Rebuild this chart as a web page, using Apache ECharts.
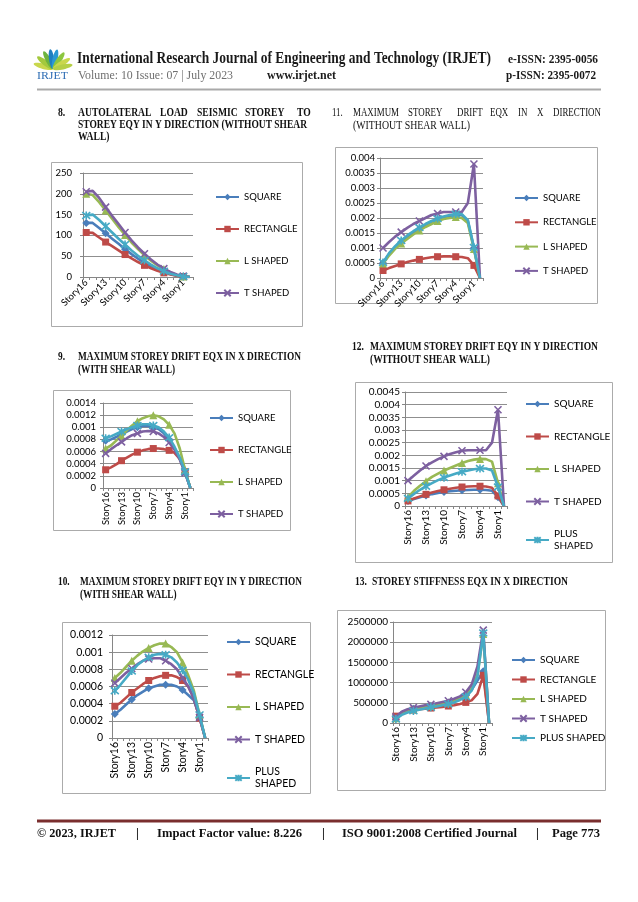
<!DOCTYPE html>
<html><head><meta charset="utf-8">
<script src="https://cdn.jsdelivr.net/npm/echarts/dist/echarts.min.js"></script>
<style>html,body{margin:0;padding:0;background:#fff}#main{width:638px;height:902px}</style>
</head><body><div id="main"></div>
<script>
// ---------- DATA ----------
const categories = ['Story16','Story15','Story14','Story13','Story12','Story11','Story10','Story9','Story8','Story7','Story6','Story5','Story4','Story3','Story2','Story1','Base'];
const seriesNames = ['SQUARE','RECTANGLE','L SHAPED','T SHAPED','PLUS SHAPED'];

// 8. Auto lateral load seismic storey to storey EQY in Y direction (without shear wall)
const c8Square = [130,130,118,105,92,80,67,55,44,34,26,18,12,7,3,1,0];
const c8Rect   = [107,106,95,84,74,64,54,45,36,28,21,15,10,6,3,1,0];
const c8L      = [200,197,180,160,140,120,101,83,67,52,39,28,19,11,5,1.5,0];
const c8T      = [205,207,190,168,147,127,107,88,71,56,42,30,20,12,6,2,0];
const c8Plus   = [148,150,137,122,107,92,78,64,51,40,30,21,14,8,4,1,0];
const c8Ticks  = [0,50,100,150,200,250];

// 9. Maximum storey drift EQX in X direction (with shear wall)
const c9Square = [0.00078,0.0008,0.00084,0.00088,0.00093,0.00097,0.001,0.00102,0.00102,0.001,0.00097,0.0009,0.0008,0.00066,0.00048,0.00025,0];
const c9Rect   = [0.0003,0.00034,0.00039,0.00045,0.0005,0.00055,0.00059,0.00062,0.00064,0.00065,0.00065,0.00064,0.00062,0.00058,0.00048,0.00027,0];
const c9L      = [0.00065,0.0007,0.00078,0.00086,0.00095,0.00103,0.0011,0.00115,0.00118,0.0012,0.00118,0.00113,0.00104,0.0009,0.00065,0.0003,0];
const c9T      = [0.00057,0.00064,0.0007,0.00076,0.00082,0.00087,0.0009,0.00093,0.00094,0.00093,0.0009,0.00084,0.00075,0.00063,0.00047,0.00025,0];
const c9Plus   = [0.00082,0.00085,0.00089,0.00093,0.00097,0.001,0.00103,0.00105,0.00105,0.00103,0.001,0.00093,0.00083,0.00068,0.0005,0.00027,0];
const c9Ticks  = [0,0.0002,0.0004,0.0006,0.0008,0.001,0.0012,0.0014];

// 10. Maximum storey drift EQY in Y direction (with shear wall)
const c10Square = [0.00028,0.00033,0.00039,0.00045,0.0005,0.00054,0.00058,0.0006,0.00062,0.00062,0.00062,0.0006,0.00056,0.0005,0.00044,0.00025,0];
const c10Rect   = [0.00037,0.00041,0.00047,0.00053,0.00058,0.00063,0.00067,0.0007,0.00072,0.00073,0.00073,0.00071,0.00067,0.0006,0.00046,0.00023,0];
const c10L      = [0.0007,0.00076,0.00083,0.0009,0.00096,0.00101,0.00105,0.00108,0.0011,0.0011,0.00106,0.001,0.00088,0.00073,0.00055,0.00027,0];
const c10T      = [0.00064,0.0007,0.00076,0.00081,0.00086,0.0009,0.00092,0.00093,0.00093,0.0009,0.00086,0.0008,0.0007,0.0006,0.00046,0.00024,0];
const c10Plus   = [0.00055,0.00062,0.0007,0.00078,0.00085,0.0009,0.00094,0.00097,0.00098,0.00097,0.00094,0.00088,0.00079,0.00068,0.00052,0.00027,0];
const c10Ticks  = [0,0.0002,0.0004,0.0006,0.0008,0.001,0.0012];

// 11. Maximum storey drift EQX in X direction (without shear wall)
const c11Square = [0.0005,0.0008,0.00102,0.0012,0.00137,0.0015,0.00163,0.00175,0.00185,0.00195,0.002,0.00205,0.0021,0.0021,0.0019,0.001,0];
const c11Rect   = [0.00025,0.00033,0.0004,0.00047,0.00053,0.00058,0.00062,0.00066,0.00069,0.00071,0.00072,0.00072,0.00071,0.0007,0.00066,0.00042,0];
const c11L      = [0.00048,0.00075,0.00097,0.00115,0.0013,0.00145,0.00158,0.0017,0.0018,0.0019,0.00197,0.002,0.00203,0.002,0.00183,0.00097,0];
const c11T      = [0.001,0.0012,0.00138,0.00153,0.00167,0.0018,0.0019,0.002,0.0021,0.00215,0.0022,0.0022,0.0022,0.0022,0.0025,0.0038,0];
const c11Plus   = [0.00052,0.00083,0.00106,0.00125,0.00142,0.00156,0.00168,0.0018,0.0019,0.00198,0.00205,0.0021,0.00213,0.00213,0.00193,0.00102,0];
const c11Ticks  = [0,0.0005,0.001,0.0015,0.002,0.0025,0.003,0.0035,0.004];

// 12. Maximum storey drift EQY in Y direction (without shear wall)
const c12Square = [0.0002,0.00028,0.00035,0.00041,0.00047,0.00051,0.00055,0.00058,0.0006,0.00062,0.00063,0.00064,0.00064,0.00063,0.0006,0.00035,0];
const c12Rect   = [0.0002,0.0003,0.00038,0.00046,0.00053,0.00059,0.00064,0.00068,0.00072,0.00075,0.00077,0.00078,0.00078,0.00077,0.00072,0.0004,0];
const c12L      = [0.00035,0.0006,0.0008,0.00098,0.00115,0.00128,0.0014,0.0015,0.0016,0.0017,0.00178,0.00183,0.00186,0.00185,0.00175,0.0009,0];
const c12T      = [0.001,0.0012,0.0014,0.00158,0.00172,0.00185,0.00196,0.00205,0.00212,0.00218,0.0022,0.0022,0.0022,0.0022,0.0025,0.0038,0];
const c12Plus   = [0.0003,0.00048,0.00064,0.00078,0.0009,0.00102,0.00112,0.0012,0.00128,0.00135,0.0014,0.00145,0.00148,0.00148,0.0014,0.00075,0];
const c12Ticks  = [0,0.0005,0.001,0.0015,0.002,0.0025,0.003,0.0035,0.004,0.0045];

// 13. Storey stiffness EQX in X direction
const c13Square = [140000,260000,310000,350000,380000,410000,430000,450000,480000,510000,550000,600000,680000,820000,1050000,1280000,0];
const c13Rect   = [170000,250000,290000,320000,340000,355000,370000,385000,400000,420000,440000,470000,510000,560000,720000,1180000,0];
const c13L      = [120000,240000,300000,340000,370000,400000,420000,450000,480000,510000,550000,610000,700000,850000,1200000,2200000,0];
const c13T      = [150000,280000,340000,380000,410000,440000,460000,490000,520000,550000,600000,660000,760000,950000,1400000,2300000,0];
const c13Plus   = [100000,200000,260000,300000,330000,360000,390000,410000,440000,470000,510000,570000,650000,800000,1150000,2230000,0];
const c13Ticks  = [0,500000,1000000,1500000,2000000,2500000];

// ---------- STYLE / LAYOUT ----------
const SERIF = "'Liberation Serif', 'Times New Roman', serif";
const SANS = "Lato, 'Open Sans', sans-serif";
const COLORS = ['#4a7ebb','#be4b48','#98b954','#7d60a0','#46aac5'];
const XPATH = 'path://M0,0L10,10M10,0L0,10';
const STARPATH = 'path://M0,0L10,10M10,0L0,10M5,-1L5,11';
const SYMBOLS = ['diamond','rect','triangle',XPATH,STARPATH];
const SYMSIZE = [8,7,8,7,8];

const charts = [
  {data:[c8Square,c8Rect,c8L,c8T,c8Plus], ticks:c8Ticks, box:[51,162,251,164], grid:[83,173,110,104], rot:45, fs:9.5, lm:11, leg:[210,186,20], n:4},
  {data:[c9Square,c9Rect,c9L,c9T,c9Plus], ticks:c9Ticks, box:[53,390,237,140], grid:[103,403,90,85], rot:90, fs:9.5, lm:7, leg:[204,407,20], n:4},
  {data:[c10Square,c10Rect,c10L,c10T,c10Plus], ticks:c10Ticks, box:[62,622,248,171], grid:[112,635,96,103], rot:90, fs:10.5, lm:9, leg:[221,631,20.5], n:5},
  {data:[c11Square,c11Rect,c11L,c11T,c11Plus], ticks:c11Ticks, box:[335,147,262,156], grid:[380,158,103,120], rot:45, fs:9.5, lm:5, leg:[509,187,12.3], n:4},
  {data:[c12Square,c12Rect,c12L,c12T,c12Plus], ticks:c12Ticks, box:[355,382,257,180], grid:[405,392,102,114], rot:90, fs:10, lm:5, leg:[520,393,20.5], n:5},
  {data:[c13Square,c13Rect,c13L,c13T,c13Plus], ticks:c13Ticks, box:[337,610,268,180], grid:[393,622,99,101], rot:90, fs:10, lm:5, leg:[506,649,7.5], n:5, oneLine:true}
];

const mctx = document.createElement('canvas').getContext('2d');
function measure(str, font){ mctx.font = font; return mctx.measureText(str).width || 1; }
function txt(str, x0, x1, y, size, weight, color, family, fixedScale) {
  family = family || SERIF;
  const font = weight + ' ' + size + 'px ' + family;
  const w = measure(str, font);
  const s = fixedScale ? fixedScale : (x1 ? (x1 - x0) / w : 1);
  return {type:'text', x:x0, y:y, scaleX:s, scaleY:1, silent:true, z:10,
    style:{text:str, x:0, y:0, font:font, fill:color || '#111', textAlign:'left', textVerticalAlign:'middle', align:'left', verticalAlign:'middle'}};
}
function scaleFor(str, x0, x1, size, weight){ return (x1 - x0) / measure(str, weight + ' ' + size + 'px ' + SERIF); }
function fmt(v){ return String(Math.round(v*1e6)/1e6); }

const grid=[], xAxis=[], yAxis=[], series=[], legend=[], graphic=[];
charts.forEach((c, i) => {
  graphic.push({type:'rect', silent:true, z:0, shape:{x:c.box[0]+0.5, y:c.box[1]+0.5, width:c.box[2], height:c.box[3]},
    style:{fill:'#fff', stroke:'#ababab', lineWidth:1}});
  grid.push({left:c.grid[0], top:c.grid[1], width:c.grid[2], height:c.grid[3], containLabel:false});
  const lbl = {fontFamily:SANS, fontSize:c.fs, color:'#000'};
  xAxis.push({type:'category', gridIndex:i, data:categories, boundaryGap:true,
    axisLine:{lineStyle:{color:'#868686', width:1}},
    axisTick:{show:true, interval:0, length:3, lineStyle:{color:'#868686'}},
    axisLabel:Object.assign({interval:2, rotate:c.rot, margin:4}, lbl)});
  const t = c.ticks;
  yAxis.push({type:'value', gridIndex:i, min:t[0], max:t[t.length-1], interval:t[1]-t[0],
    axisLine:{show:true, lineStyle:{color:'#868686', width:1}},
    axisTick:{show:true, length:3, lineStyle:{color:'#868686'}},
    splitLine:{show:true, lineStyle:{color:'#8f8f8f', width:1}},
    axisLabel:Object.assign({margin:c.lm, formatter:fmt}, lbl)});
  c.data.forEach((d, k) => {
    const isPath = k >= 3;
    series.push({type:'line', name:seriesNames[k], xAxisIndex:i, yAxisIndex:i, data:d,
      symbol:SYMBOLS[k], symbolSize:SYMSIZE[k], showSymbol:true, animation:false, z:2+k,
      lineStyle:{color:COLORS[k], width:2.6},
      itemStyle:{color:COLORS[k], borderColor:COLORS[k], borderWidth:isPath?1.6:0}});
  });
  legend.push({orient:'vertical', left:c.leg[0], top:c.leg[1], itemGap:c.leg[2], itemWidth:23, itemHeight:8,
    data:seriesNames.slice(0, c.n), selectedMode:false,
    formatter: name => (name === 'PLUS SHAPED' && !c.oneLine) ? 'PLUS\nSHAPED' : name,
    textStyle:{fontFamily:SANS, fontSize:c.fs, color:'#000', lineHeight:12}});
});

// ---------- PAGE TEXT ----------
// header logo
const leaves = [[-75,'#c9d74c'],[-52,'#a4c93d'],[-28,'#6db33f'],[-8,'#1f7fc1'],[12,'#2a98d4'],[34,'#8cc63f'],[58,'#c9d74c'],[78,'#b5cf45']];
leaves.forEach(l => graphic.push({type:'ellipse', x:53, y:69, rotation:-l[0]*Math.PI/180, silent:true,
  shape:{cx:0, cy:-10, rx:2.6, ry:10}, style:{fill:l[1]}}));
graphic.push(txt('IRJET', 37, 68, 76, 10, 'normal', '#2e6db4'));
graphic.push(txt('International Research Journal of Engineering and Technology (IRJET)', 77, 491, 59, 16, 'bold', '#1a1a1a'));
graphic.push(txt('e-ISSN: 2395-0056', 508, 598, 60, 12.5, 'bold', '#1a1a1a'));
graphic.push(txt('Volume: 10 Issue: 07 | July 2023', 78, 233, 76, 12.5, 'normal', '#6f6f6f'));
graphic.push(txt('www.irjet.net', 267, 336, 76, 12.5, 'bold', '#1a1a1a'));
graphic.push(txt('p-ISSN: 2395-0072', 506, 596, 76, 12.5, 'bold', '#1a1a1a'));
graphic.push({type:'line', silent:true, shape:{x1:37, y1:89.5, x2:601, y2:89.5}, style:{stroke:'#a9a9a9', lineWidth:2}});

// chart titles
const TS = 12.5;
// justified line: word list [text, x0, x1]; one common scale taken from the longer words' spans
function justified(list, y, weight){
  const font = weight + ' ' + TS + 'px ' + SERIF;
  const long = list.filter(w => w[0].length >= 4);
  const s = long.reduce((a, w) => a + (w[2] - w[1]) / measure(w[0], font), 0) / long.length;
  list.forEach(w => graphic.push(txt(w[0], w[1], null, y, TS, weight, '#111', SERIF, s)));
  return s;
}
const s8 = justified([['8.',58,67],['AUTOLATERAL',78,150],['LOAD',160,187],['SEISMIC',197,237],['STOREY',245,287],['TO',297,307]], 113, 'bold');
graphic.push(txt('STOREY EQY IN Y DIRECTION (WITHOUT SHEAR', 78, 307, 125, TS, 'bold'));
graphic.push(txt('WALL)', 78, null, 137, TS, 'bold', '#111', SERIF, s8));

justified([['11.',332,345],['MAXIMUM',353,398],['STOREY',408,445],['DRIFT',457,483],['EQX',490,512],['IN',518,528],['X',537,545],['DIRECTION',553,598]], 113, 'normal');
graphic.push(txt('(WITHOUT SHEAR WALL)', 353, 470, 126, TS, 'normal'));

const s9 = scaleFor('MAXIMUM STOREY DRIFT EQX IN X DIRECTION', 78, 301, TS, 'bold');
graphic.push(txt('9.', 58, null, 357, TS, 'bold', '#111', SERIF, s9));
graphic.push(txt('MAXIMUM STOREY DRIFT EQX IN X DIRECTION', 78, 301, 357, TS, 'bold'));
graphic.push(txt('(WITH SHEAR WALL)', 78, null, 370, TS, 'bold', '#111', SERIF, s9));

const s12 = scaleFor('MAXIMUM STOREY DRIFT EQY IN Y DIRECTION', 370, 598, TS, 'bold');
graphic.push(txt('12.', 352, null, 347, TS, 'bold', '#111', SERIF, s12));
graphic.push(txt('MAXIMUM STOREY DRIFT EQY IN Y DIRECTION', 370, 598, 347, TS, 'bold'));
graphic.push(txt('(WITHOUT SHEAR WALL)', 370, null, 360, TS, 'bold', '#111', SERIF, s12));

const s10 = scaleFor('MAXIMUM STOREY DRIFT EQY IN Y DIRECTION', 80, 302, TS, 'bold');
graphic.push(txt('10.', 58, null, 582, TS, 'bold', '#111', SERIF, s10));
graphic.push(txt('MAXIMUM STOREY DRIFT EQY IN Y DIRECTION', 80, 302, 582, TS, 'bold'));
graphic.push(txt('(WITH SHEAR WALL)', 80, null, 595, TS, 'bold', '#111', SERIF, s10));

const s13 = scaleFor('STOREY STIFFNESS EQX IN X DIRECTION', 372, 568, TS, 'bold');
graphic.push(txt('13.', 355, null, 582, TS, 'bold', '#111', SERIF, s13));
graphic.push(txt('STOREY STIFFNESS EQX IN X DIRECTION', 372, 568, 582, TS, 'bold'));

// footer
graphic.push({type:'line', silent:true, shape:{x1:37, y1:821, x2:601, y2:821}, style:{stroke:'#7a2e2e', lineWidth:3}});
graphic.push(txt('\u00A9 2023, IRJET', 37, 116, 834, 13, 'bold'));
graphic.push(txt('|', 136, null, 834, 13, 'bold'));
graphic.push(txt('Impact Factor value: 8.226', 157, 302, 834, 13, 'bold'));
graphic.push(txt('|', 322, null, 834, 13, 'bold'));
graphic.push(txt('ISO 9001:2008 Certified Journal', 342, 517, 834, 13, 'bold'));
graphic.push(txt('|', 536, null, 834, 13, 'bold'));
graphic.push(txt('Page 773', 552, 600, 834, 13, 'bold'));

const chart = echarts.init(document.getElementById('main'), null, {renderer:'canvas'});
chart.setOption({backgroundColor:'#ffffff', animation:false, grid, xAxis, yAxis, series, legend, graphic});
</script>
</body></html>
